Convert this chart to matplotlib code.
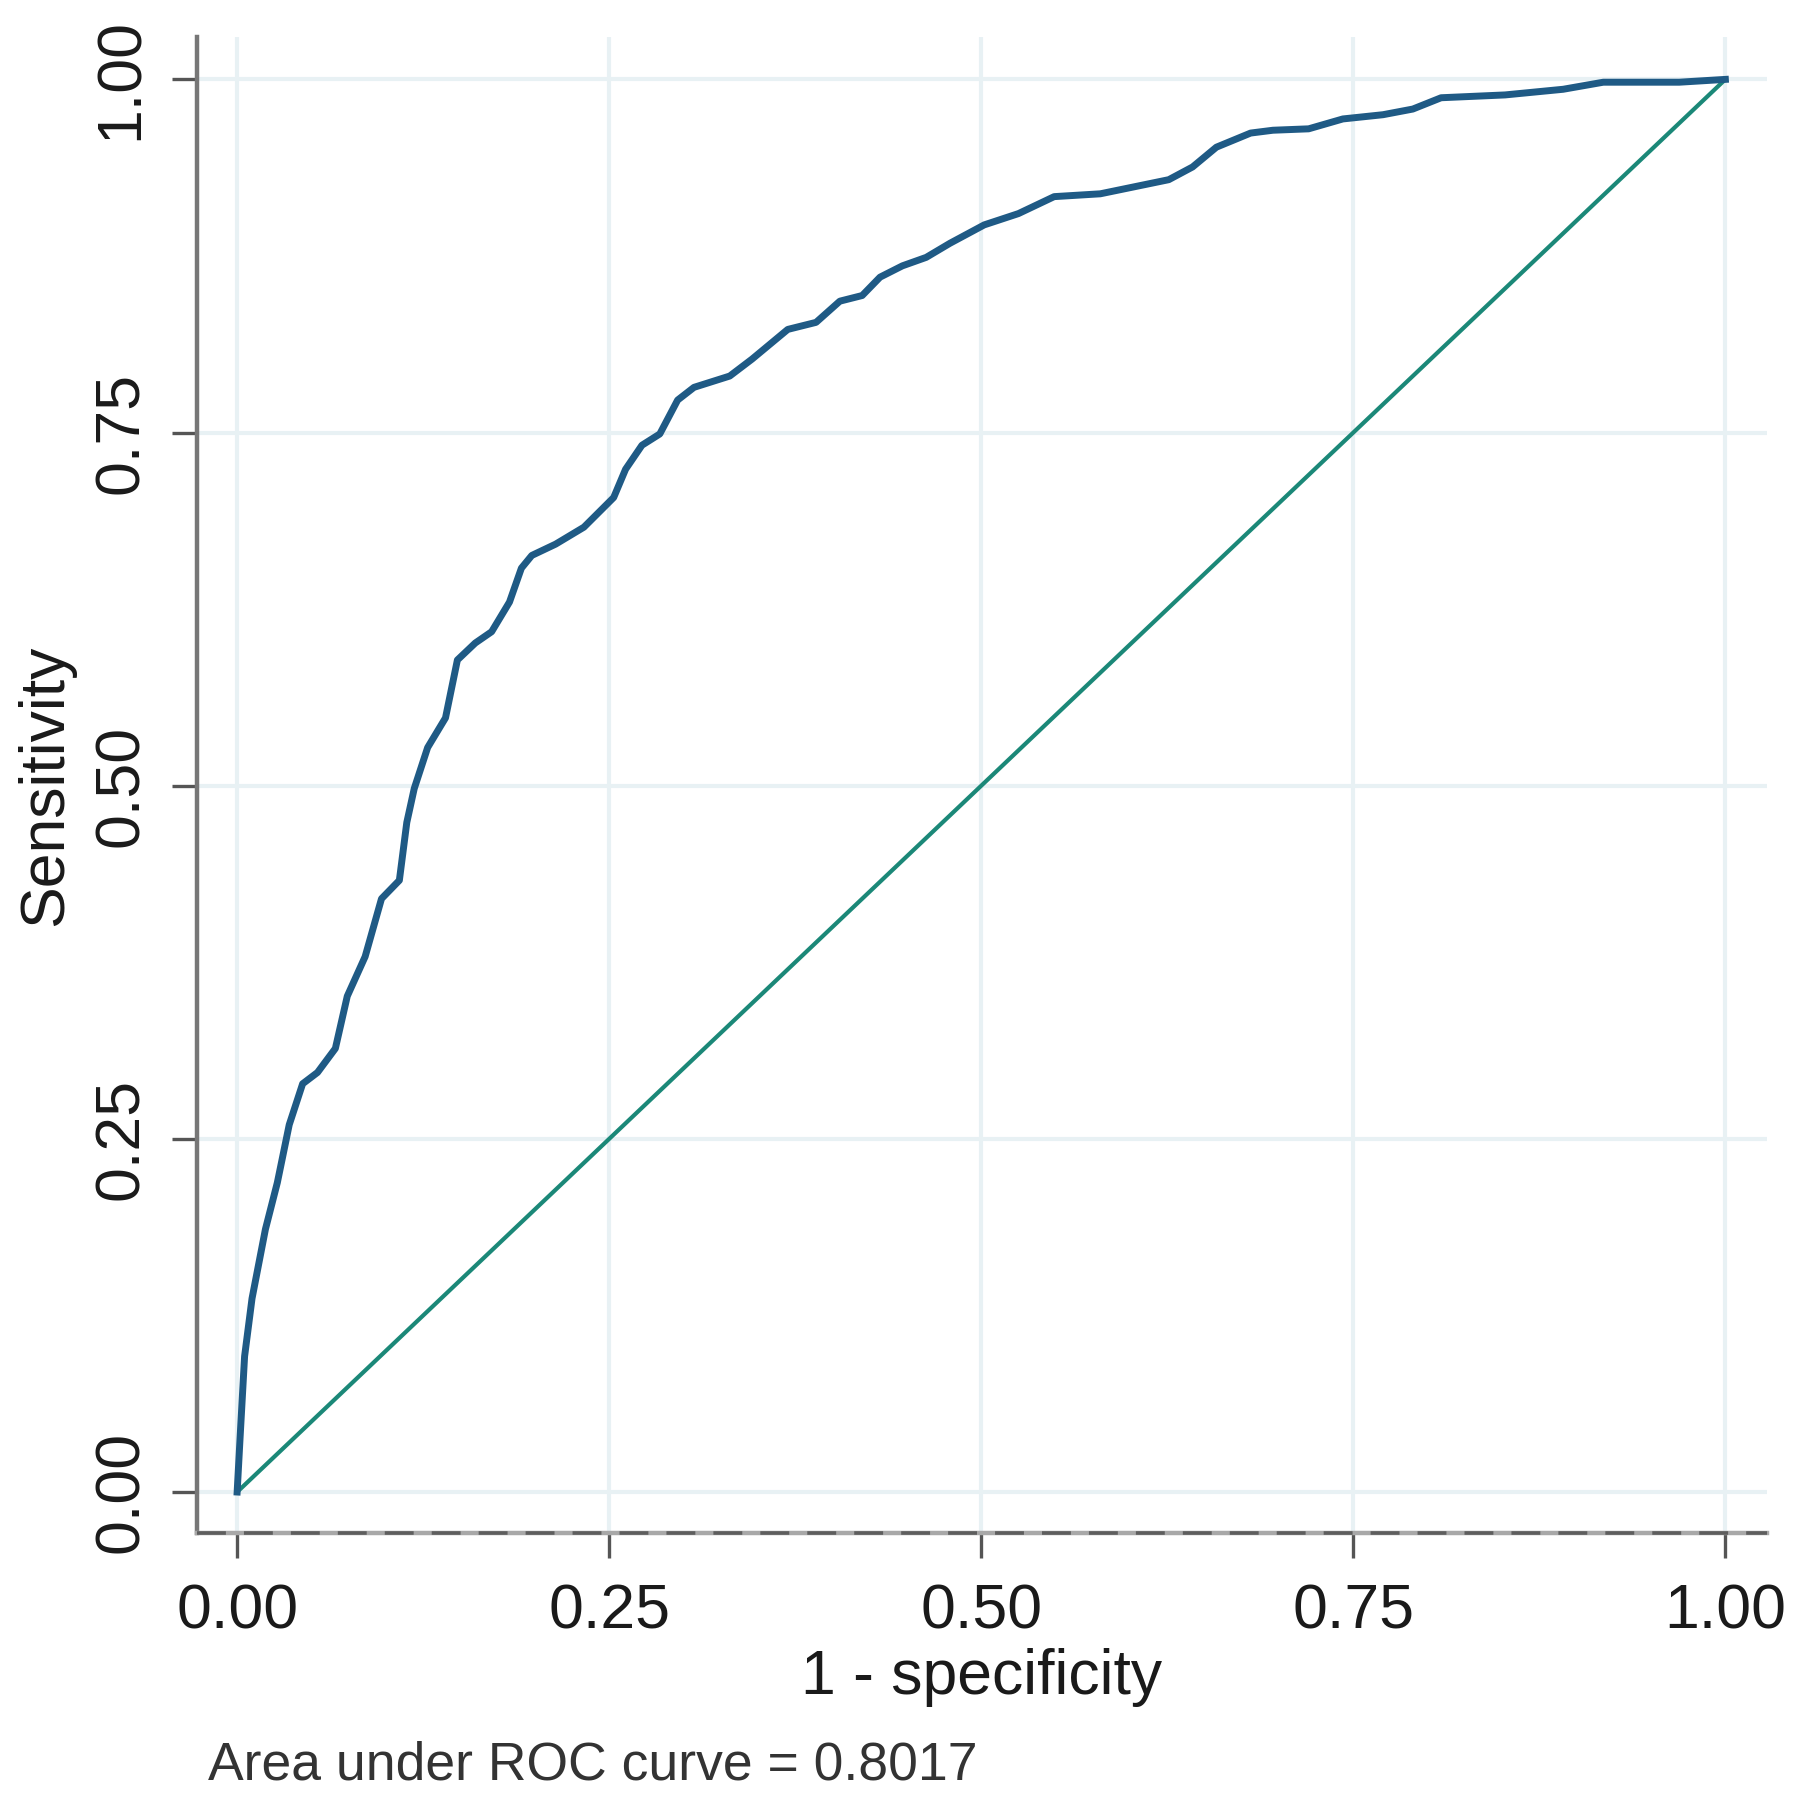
import numpy as np
import matplotlib
matplotlib.use("Agg")
import matplotlib.pyplot as plt

# ROC points (1 - specificity, sensitivity)
FPR = [0.000, 0.002, 0.005, 0.010, 0.019, 0.027, 0.035, 0.044, 0.054, 0.066,
       0.074, 0.086, 0.097, 0.109, 0.114, 0.119, 0.128, 0.140, 0.148, 0.160,
       0.171, 0.183, 0.191, 0.198, 0.214, 0.233, 0.253, 0.261, 0.272, 0.284,
       0.296, 0.307, 0.331, 0.346, 0.370, 0.389, 0.405, 0.420, 0.432, 0.447,
       0.463, 0.479, 0.502, 0.525, 0.549, 0.580, 0.603, 0.626, 0.642, 0.658,
       0.681, 0.696, 0.720, 0.743, 0.770, 0.790, 0.809, 0.852, 0.891, 0.918,
       0.969, 1.000]
TPR = [0.000, 0.039, 0.096, 0.137, 0.186, 0.219, 0.260, 0.289, 0.297, 0.314,
       0.351, 0.379, 0.420, 0.433, 0.474, 0.498, 0.527, 0.548, 0.589, 0.601,
       0.609, 0.630, 0.654, 0.663, 0.671, 0.683, 0.704, 0.724, 0.741, 0.749,
       0.773, 0.782, 0.790, 0.802, 0.823, 0.828, 0.843, 0.847, 0.860, 0.868,
       0.874, 0.884, 0.897, 0.905, 0.917, 0.919, 0.924, 0.929, 0.938, 0.952,
       0.962, 0.964, 0.965, 0.972, 0.975, 0.979, 0.987, 0.989, 0.993, 0.998,
       0.998, 1.000]
TICKS = [0.0, 0.25, 0.5, 0.75, 1.0]
TICK_LABELS = ["0.00", "0.25", "0.50", "0.75", "1.00"]
AUC = 0.8017

plt.rcParams["font.family"] = ["Liberation Sans", "DejaVu Sans"]
TXT = "#1a1a1a"

fig = plt.figure(figsize=(18.17, 18.05), dpi=100)
ax = fig.add_axes([0.1084, 0.1507, 0.8641, 0.8288])

ax.set_xlim(-0.027, 1.028)
ax.set_ylim(-0.029, 1.030)

ax.set_xticks(TICKS)
ax.set_xticklabels(TICK_LABELS)
ax.set_yticks(TICKS)
ax.set_yticklabels(TICK_LABELS, rotation=90, va="center")
ax.grid(True, color="#e8f1f4", lw=3)
ax.set_axisbelow(True)

ax.plot([0, 1], [0, 1], color="#1b8878", lw=3, solid_capstyle="round")
ax.plot(FPR, TPR, color="#1f5a85", lw=5, solid_joinstyle="round")

for s in ("top", "right"):
    ax.spines[s].set_visible(False)
ax.spines["left"].set_color("#777777")
ax.spines["left"].set_linewidth(3.2)
ax.spines["bottom"].set_color("#a8a8a8")
ax.spines["bottom"].set_linewidth(3.2)
# bottom axis looks dashed in the original
ax.plot([0, 1], [0, 0], transform=ax.transAxes, color="#5e5e5e", lw=2.6,
        dashes=(8, 5), clip_on=False, zorder=5)

ax.tick_params(axis="both", length=18, width=2.4, color="#555555",
               labelsize=45, labelcolor=TXT)
ax.tick_params(axis="x", pad=18)
ax.tick_params(axis="y", pad=15)

ax.set_xlabel("1 - specificity", fontsize=45, color=TXT, labelpad=4)
ax.set_ylabel("Sensitivity", fontsize=45, color=TXT, labelpad=12)

fig.text(208 / 1817, 1 - 1779 / 1805, f"Area under ROC curve = {AUC:.4f}",
         fontsize=38.5, color="#333333", va="baseline", ha="left")

fig.savefig("out.png", dpi=100)
